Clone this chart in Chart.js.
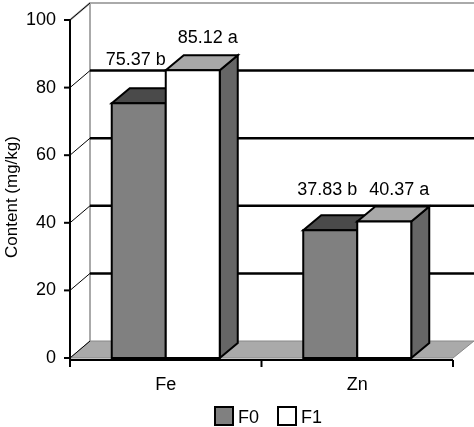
<!DOCTYPE html>
<html lang="en">
<head>
<meta charset="UTF-8">
<title>Content</title>
<script src="https://cdn.jsdelivr.net/npm/chart.js@4.4.0/dist/chart.umd.min.js"></script>
<style>
  body { margin: 0; background: #fff; }
  #wrap { width: 474px; height: 427px; }
</style>
</head>
<body>
<div id="wrap"><canvas id="myChart"></canvas></div>
<script>
const categories = ['Fe', 'Zn'];
const seriesNames = ['F0', 'F1'];
const f0Values = [75.37, 37.83];
const f1Values = [85.12, 40.37];
const f0Labels = ['75.37 b', '37.83 b'];
const f1Labels = ['85.12 a', '40.37 a'];
const yTicks = [0, 20, 40, 60, 80, 100];

const FONT = '18px "Liberation Sans", Arial, sans-serif';
const DX = 18, DY = -15;        // bar depth
const WX = 20, WY = -17;        // wall depth

function poly(ctx, pts, fill) {
    ctx.beginPath();
    ctx.moveTo(pts[0][0], pts[0][1]);
    for (let i = 1; i < pts.length; i++) ctx.lineTo(pts[i][0], pts[i][1]);
    ctx.closePath();
    ctx.fillStyle = fill;
    ctx.fill();
    ctx.strokeStyle = '#000';
    ctx.lineWidth = 2;
    ctx.stroke();
}

// walls, floor, axes
const backdrop = {
    id: 'backdrop',
    beforeDatasetsDraw(chart) {
        const ctx = chart.ctx, a = chart.chartArea, y = chart.scales.y, x = chart.scales.x;
        ctx.save();
        // wall outline
        ctx.strokeStyle = '#aaa';
        ctx.lineWidth = 2;
        ctx.beginPath();
        ctx.moveTo(a.left, a.top); ctx.lineTo(a.left + WX, a.top + WY); ctx.lineTo(474, a.top + WY);
        ctx.moveTo(a.left + WX, a.top + WY); ctx.lineTo(a.left + WX, a.bottom + WY);
        ctx.stroke();
        // floor
        ctx.beginPath();
        ctx.moveTo(a.left, a.bottom); ctx.lineTo(a.left + WX, a.bottom + WY);
        ctx.lineTo(474, a.bottom + WY); ctx.lineTo(a.right, a.bottom); ctx.closePath();
        ctx.fillStyle = '#aaa'; ctx.fill();
        ctx.strokeStyle = '#888'; ctx.lineWidth = 1; ctx.stroke();
        // gridlines on back wall + left wall diagonals
        yTicks.forEach(v => {
            const py = y.getPixelForValue(v);
            ctx.strokeStyle = '#000';
            ctx.lineWidth = 1;
            ctx.beginPath(); ctx.moveTo(a.left, py); ctx.lineTo(a.left + WX, py + WY); ctx.stroke();
            if (v > 0 && v < 100) {
                ctx.lineWidth = 2.5;
                ctx.beginPath(); ctx.moveTo(a.left + WX, py + WY); ctx.lineTo(474, py + WY); ctx.stroke();
            }
            // tick and label
            ctx.lineWidth = 2;
            ctx.beginPath(); ctx.moveTo(a.left - 6, py); ctx.lineTo(a.left, py); ctx.stroke();
            ctx.fillStyle = '#000'; ctx.font = FONT;
            ctx.textAlign = 'right'; ctx.textBaseline = 'middle';
            ctx.fillText(String(v), a.left - 14, py);
        });
        // y axis
        ctx.lineWidth = 2;
        ctx.beginPath(); ctx.moveTo(a.left, a.top); ctx.lineTo(a.left, a.bottom + 2); ctx.stroke();
        // x axis
        const ax = a.bottom + 2;
        ctx.beginPath(); ctx.moveTo(a.left, ax); ctx.lineTo(a.right, ax); ctx.stroke();
        [a.left, (a.left + a.right) / 2, a.right].forEach(px => {
            ctx.beginPath(); ctx.moveTo(px, ax); ctx.lineTo(px, ax + 7); ctx.stroke();
        });
        ctx.textAlign = 'center'; ctx.textBaseline = 'middle';
        categories.forEach((c, i) => ctx.fillText(c, x.getPixelForValue(i), ax + 25));
        // axis title
        ctx.save();
        ctx.translate(12, (a.top + a.bottom) / 2 + 8);
        ctx.rotate(-Math.PI / 2);
        ctx.font = '17px "Liberation Sans", Arial, sans-serif';
        ctx.fillText('Content (mg/kg)', 0, 0);
        ctx.restore();
        // legend
        const ly = 416;
        [['#808080', 'F0', 215], ['#fff', 'F1', 278]].forEach(([col, t, lx]) => {
            ctx.fillStyle = col; ctx.fillRect(lx, ly - 9, 18, 18);
            ctx.strokeStyle = '#000'; ctx.lineWidth = 2; ctx.strokeRect(lx, ly - 9, 18, 18);
            ctx.fillStyle = '#000'; ctx.textAlign = 'left';
            ctx.fillText(t, lx + 23, ly + 2);
        });
        ctx.restore();
    }
};

// 3D faces and value labels
const faces = {
    id: 'faces',
    afterDatasetsDraw(chart) {
        const ctx = chart.ctx;
        const colors = [['#808080', '#4a4a4a', '#5a5a5a'], ['#ffffff', '#a8a8a8', '#666666']];
        const labels = [f0Labels, f1Labels];
        ctx.save();
        categories.forEach((c, i) => {
            [0, 1].forEach(d => {
                const b = chart.getDatasetMeta(d).data[i];
                const l = b.x - b.width / 2, r = b.x + b.width / 2, t = b.y, bot = b.base;
                poly(ctx, [[r, bot], [r + DX, bot + DY], [r + DX, t + DY], [r, t]], colors[d][2]);
                poly(ctx, [[l, t], [r, t], [r + DX, t + DY], [l + DX, t + DY]], colors[d][1]);
                poly(ctx, [[l, t], [r, t], [r, bot], [l, bot]], colors[d][0]);
            });
            // labels
            const top = Math.min(chart.getDatasetMeta(0).data[i].y, chart.getDatasetMeta(1).data[i].y) + DY;
            [0, 1].forEach(d => {
                const b = chart.getDatasetMeta(d).data[i];
                const ownTop = b.y + DY;
                let ly = (d === 0 && ownTop - top > 25) ? ownTop - 28 : top - 17;
                ctx.fillStyle = '#000'; ctx.font = FONT;
                ctx.textAlign = 'center'; ctx.textBaseline = 'middle';
                ctx.fillText(labels[d][i], b.x + DX / 2 + (d === 0 ? -12 : 6), ly);
            });
        });
        ctx.restore();
    }
};

new Chart(document.getElementById('myChart'), {
    type: 'bar',
    data: {
        labels: categories,
        datasets: [
            { label: seriesNames[0], data: f0Values, backgroundColor: '#808080', borderWidth: 0 },
            { label: seriesNames[1], data: f1Values, backgroundColor: '#ffffff', borderWidth: 0 }
        ]
    },
    options: {
        responsive: true,
        maintainAspectRatio: false,
        animation: false,
        layout: { padding: { left: 70, right: 21, top: 20, bottom: 69 } },
        categoryPercentage: 0.564,
        barPercentage: 1,
        plugins: { legend: { display: false }, tooltip: { enabled: false } },
        scales: {
            x: { display: false },
            y: { display: false, min: 0, max: 100 }
        }
    },
    plugins: [backdrop, faces]
});
</script>
</body>
</html>
